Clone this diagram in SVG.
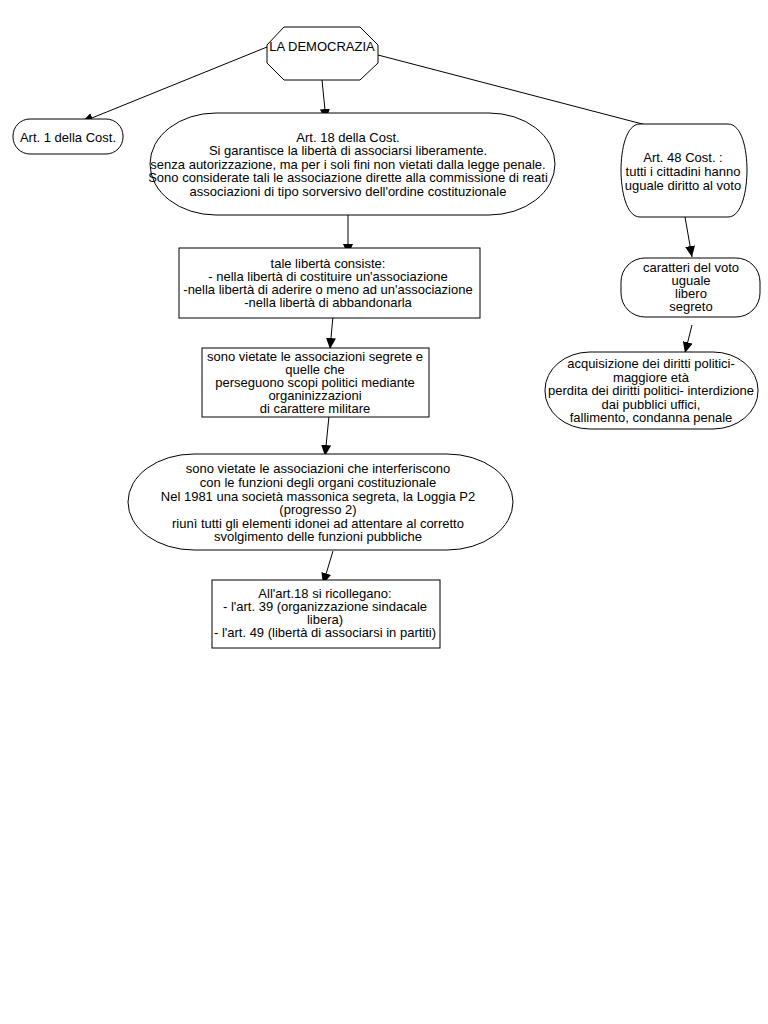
<svg xmlns="http://www.w3.org/2000/svg" width="768" height="1024" viewBox="0 0 768 1024">
<style>
.s{fill:#fff;stroke:#000;stroke-width:1}
.t{font-family:"Liberation Sans",Arial,sans-serif;font-size:13px;fill:#000;text-anchor:middle}
.c{stroke:#000;stroke-width:1;fill:none;marker-end:url(#a)}
</style>
<defs>
<marker id="a" markerUnits="userSpaceOnUse" markerWidth="12" markerHeight="10" refX="11" refY="5" orient="auto">
<path d="M0,0 L11,5 L0,10 Z" fill="#000"/>
</marker>
</defs>
<rect width="768" height="1024" fill="#fff"/>
<g id="connectors">
<line class="c" x1="267" y1="47" x2="82" y2="122"/>
<line class="c" x1="322" y1="80" x2="326" y2="120"/>
<line class="c" x1="378" y1="55" x2="673" y2="132"/>
<line class="c" x1="348" y1="195" x2="348" y2="255"/>
<line class="c" x1="333" y1="316" x2="330" y2="349"/>
<line class="c" x1="329" y1="416" x2="325" y2="456"/>
<line class="c" x1="333" y1="551" x2="323" y2="584"/>
<line class="c" x1="685" y1="217" x2="692" y2="257"/>
<line class="c" x1="692" y1="325" x2="685" y2="353"/>
</g>
<g id="n-democrazia">
<polygon class="s" points="284,27 360,27 378,45 378,63 360,80 284,80 267,63 267,45"/>
<text class="t" x="322" y="51">LA DEMOCRAZIA</text>
</g>
<g id="n-art1">
<rect class="s" x="13" y="119" width="110" height="35" rx="17" ry="17"/>
<text class="t" x="68" y="142">Art. 1 della Cost.</text>
</g>
<g id="n-art18">
<rect class="s" x="150" y="113" width="405" height="102" rx="66" ry="51"/>
<text class="t" x="348" y="141.5">Art. 18 della Cost.</text>
<text class="t" x="348" y="155">Si garantisce la libertà di associarsi liberamente.</text>
<text class="t" x="348" y="168.5">senza autorizzazione, ma per i soli fini non vietati dalla legge penale.</text>
<text class="t" x="348" y="182">Sono considerate tali  le associazione dirette alla commissione di reati</text>
<text class="t" x="348" y="195.5">associazioni di tipo sorversivo dell'ordine costituzionale</text>
</g>
<g id="n-art48">
<path class="s" d="M640,124 L728,124 C742,124 747,150 747,170 C747,190 742,217 728,217 L640,217 C626,217 621,190 621,170 C621,150 626,124 640,124 Z"/>
<text class="t" x="683" y="162">Art. 48 Cost. :</text>
<text class="t" x="683" y="176">tutti i cittadini hanno</text>
<text class="t" x="683" y="189.5">uguale diritto al voto</text>
</g>
<g id="n-tale">
<rect class="s" x="179" y="248" width="301" height="70"/>
<text class="t" x="328" y="268">tale libertà consiste:</text>
<text class="t" x="328" y="281">- nella libertà di costituire un'associazione</text>
<text class="t" x="328" y="294">-nella libertà di aderire o meno ad un'associazione</text>
<text class="t" x="328" y="307">-nella libertà di abbandonarla</text>
</g>
<g id="n-segrete">
<rect class="s" x="202" y="348" width="227" height="69"/>
<text class="t" x="315" y="361">sono vietate le associazioni segrete e</text>
<text class="t" x="315" y="374">quelle che</text>
<text class="t" x="315" y="387">perseguono scopi politici mediante</text>
<text class="t" x="315" y="400">organinizzazioni</text>
<text class="t" x="315" y="413">di carattere militare</text>
</g>
<g id="n-interferiscono">
<rect class="s" x="128" y="454" width="385" height="96" rx="66" ry="48"/>
<text class="t" x="318" y="473">sono vietate le associazioni che interferiscono</text>
<text class="t" x="318" y="487">con le funzioni degli organi costituzionale</text>
<text class="t" x="318" y="500.5">Nel 1981 una società massonica segreta, la Loggia P2</text>
<text class="t" x="318" y="514">(progresso 2)</text>
<text class="t" x="318" y="527.5">riunì tutti gli elementi idonei ad attentare al corretto</text>
<text class="t" x="318" y="541">svolgimento delle funzioni pubbliche</text>
</g>
<g id="n-ricollegano">
<rect class="s" x="212" y="580" width="228" height="68"/>
<text class="t" x="325" y="598">All'art.18 si ricollegano:</text>
<text class="t" x="325" y="611">-  l'art. 39 (organizzazione sindacale</text>
<text class="t" x="325" y="624">libera)</text>
<text class="t" x="325" y="637">- l'art. 49 (libertà di associarsi  in partiti)</text>
</g>
<g id="n-caratteri">
<rect class="s" x="621" y="258" width="139" height="59" rx="24" ry="24"/>
<text class="t" x="691" y="272">caratteri del voto</text>
<text class="t" x="691" y="285">uguale</text>
<text class="t" x="691" y="298">libero</text>
<text class="t" x="691" y="311">segreto</text>
</g>
<g id="n-diritti">
<rect class="s" x="545" y="352" width="213" height="77" rx="45" ry="38"/>
<text class="t" x="651" y="368">acquisizione dei diritti politici-</text>
<text class="t" x="651" y="381.5">maggiore età</text>
<text class="t" x="651" y="395">perdita dei diritti politici- interdizione</text>
<text class="t" x="651" y="408.5">dai pubblici uffici,</text>
<text class="t" x="651" y="422">fallimento, condanna penale</text>
</g>
</svg>
